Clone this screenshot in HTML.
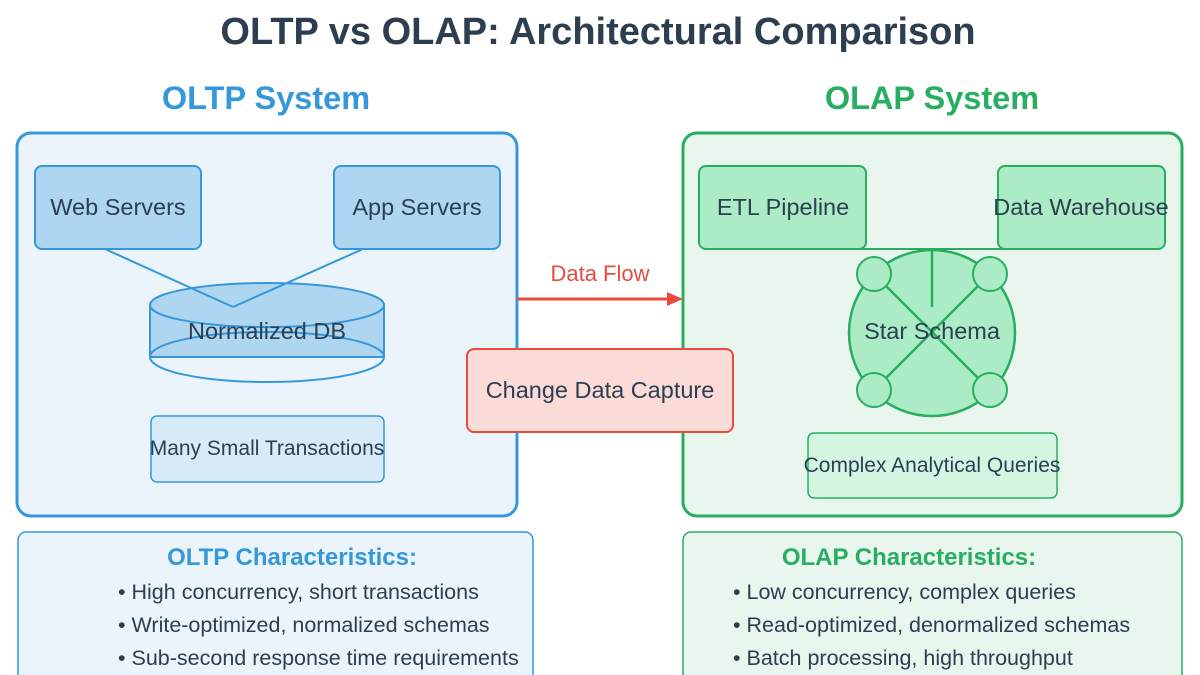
<!DOCTYPE html>
<html><head><meta charset="utf-8"><style>
html,body{margin:0;padding:0;background:#fff;width:1200px;height:675px;overflow:hidden}
svg{display:block;font-family:"Liberation Sans",sans-serif}
</style></head><body>
<svg width="1200" height="675" viewBox="0 0 1200 675">
<text x="598" y="44" text-anchor="middle" font-size="38" font-weight="bold" fill="#2c3e50">OLTP vs OLAP: Architectural Comparison</text>
<text x="266" y="109" text-anchor="middle" font-size="32.5" font-weight="bold" fill="#3498db">OLTP System</text>
<text x="932" y="109" text-anchor="middle" font-size="32.5" font-weight="bold" fill="#27ae60">OLAP System</text>

<rect x="17" y="133" width="500" height="383" rx="14" fill="#ebf4fb" stroke="#3498db" stroke-width="3"/>
<rect x="35" y="166" width="166" height="83" rx="7" fill="#aed6f1" stroke="#3498db" stroke-width="2"/>
<text x="118" y="215" text-anchor="middle" font-size="23.5" fill="#2c3e50">Web Servers</text>
<rect x="334" y="166" width="166" height="83" rx="7" fill="#aed6f1" stroke="#3498db" stroke-width="2"/>
<text x="417" y="215" text-anchor="middle" font-size="23.5" fill="#2c3e50">App Servers</text>
<rect x="150" y="305" width="234" height="52" fill="#aed6f1"/>
<ellipse cx="267" cy="305" rx="117" ry="22" fill="#aed6f1" stroke="#3498db" stroke-width="2"/>
<ellipse cx="267" cy="357" rx="117" ry="25" fill="none" stroke="#3498db" stroke-width="2"/>
<line x1="150" y1="305" x2="150" y2="357" stroke="#3498db" stroke-width="2"/>
<line x1="384" y1="305" x2="384" y2="357" stroke="#3498db" stroke-width="2"/>
<line x1="150" y1="357" x2="384" y2="357" stroke="#3498db" stroke-width="2"/>
<line x1="105" y1="249" x2="233" y2="307" stroke="#3498db" stroke-width="2"/>
<line x1="363" y1="249" x2="233" y2="307" stroke="#3498db" stroke-width="2"/>
<text x="267" y="339" text-anchor="middle" font-size="23.5" fill="#2c3e50">Normalized DB</text>
<rect x="151" y="416" width="233" height="66" rx="6" fill="#d6eaf8" stroke="#3498db" stroke-width="1.5"/>
<text x="267" y="455" text-anchor="middle" font-size="21" fill="#2c3e50">Many Small Transactions</text>

<rect x="683" y="133" width="499" height="383" rx="14" fill="#e8f6ee" stroke="#27ae60" stroke-width="3"/>
<line x1="780" y1="249" x2="1080" y2="249" stroke="#27ae60" stroke-width="2"/>
<rect x="699" y="166" width="167" height="83" rx="7" fill="#abebc6" stroke="#27ae60" stroke-width="2"/>
<text x="783" y="215" text-anchor="middle" font-size="23.5" fill="#2c3e50">ETL Pipeline</text>
<rect x="998" y="166" width="167" height="83" rx="7" fill="#abebc6" stroke="#27ae60" stroke-width="2"/>
<text x="1081" y="215" text-anchor="middle" font-size="23.5" fill="#2c3e50">Data Warehouse</text>
<circle cx="932" cy="333" r="83" fill="#abebc6" stroke="#27ae60" stroke-width="2.5"/>
<line x1="932" y1="250" x2="932" y2="307" stroke="#27ae60" stroke-width="2.5"/>
<line x1="874" y1="274" x2="990" y2="390" stroke="#27ae60" stroke-width="2.5"/>
<line x1="990" y1="274" x2="874" y2="390" stroke="#27ae60" stroke-width="2.5"/>
<circle cx="874" cy="274" r="17" fill="#abebc6" stroke="#27ae60" stroke-width="2"/>
<circle cx="990" cy="274" r="17" fill="#abebc6" stroke="#27ae60" stroke-width="2"/>
<circle cx="874" cy="390" r="17" fill="#abebc6" stroke="#27ae60" stroke-width="2"/>
<circle cx="990" cy="390" r="17" fill="#abebc6" stroke="#27ae60" stroke-width="2"/>
<text x="932" y="339" text-anchor="middle" font-size="23.5" fill="#2c3e50">Star Schema</text>
<rect x="808" y="433" width="249" height="65" rx="6" fill="#d5f5e3" stroke="#27ae60" stroke-width="1.5"/>
<text x="932" y="472" text-anchor="middle" font-size="21" fill="#2c3e50">Complex Analytical Queries</text>

<line x1="517" y1="299" x2="670" y2="299" stroke="#e74c3c" stroke-width="3"/>
<polygon points="683,299 667,292 667,306" fill="#e74c3c"/>
<text x="600" y="281" text-anchor="middle" font-size="22" fill="#e74c3c">Data Flow</text>
<rect x="467" y="349" width="266" height="83" rx="7" fill="#fadbd8" stroke="#e74c3c" stroke-width="2"/>
<text x="600" y="398" text-anchor="middle" font-size="23.5" fill="#2c3e50">Change Data Capture</text>

<rect x="18" y="532" width="515" height="160" rx="8" fill="#ebf4fb" stroke="#3498db" stroke-width="1.5"/>
<text x="292" y="565" text-anchor="middle" font-size="24" font-weight="bold" fill="#3498db">OLTP Characteristics:</text>
<text x="118" y="599" font-size="21.5" fill="#2c3e50">• High concurrency, short transactions</text>
<text x="118" y="632" font-size="21.5" fill="#2c3e50">• Write-optimized, normalized schemas</text>
<text x="118" y="665" font-size="21.5" fill="#2c3e50">• Sub-second response time requirements</text>

<rect x="683" y="532" width="499" height="160" rx="8" fill="#e8f6ee" stroke="#27ae60" stroke-width="1.5"/>
<text x="909" y="565" text-anchor="middle" font-size="24" font-weight="bold" fill="#27ae60">OLAP Characteristics:</text>
<text x="733" y="599" font-size="21.5" fill="#2c3e50">• Low concurrency, complex queries</text>
<text x="733" y="632" font-size="21.5" fill="#2c3e50">• Read-optimized, denormalized schemas</text>
<text x="733" y="665" font-size="21.5" fill="#2c3e50">• Batch processing, high throughput</text>
</svg>
</body></html>
